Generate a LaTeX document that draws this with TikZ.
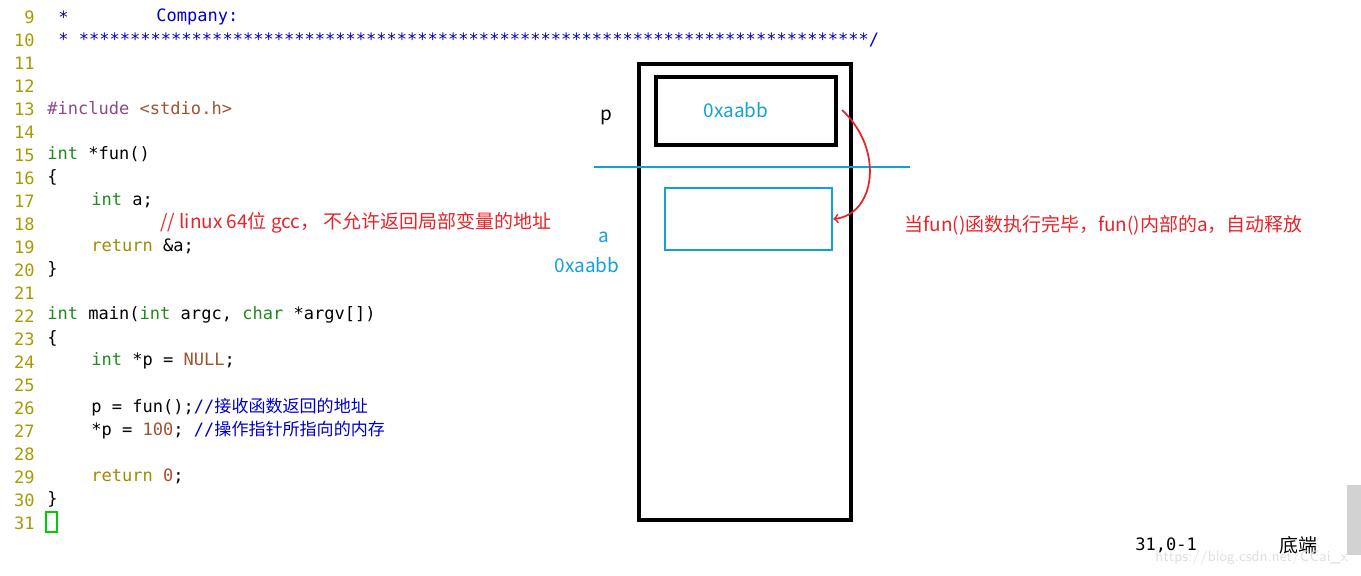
\documentclass[tikz,border=0pt]{standalone}
\usepackage{fontspec}
\setmonofont{DejaVu Sans Mono}
\newfontfamily\cjk{Noto Sans CJK SC}
\usepackage{tikz}
\definecolor{linenum}{HTML}{A89A00}
\definecolor{kwgreen}{HTML}{1E8A1E}
\definecolor{retcol}{HTML}{A08A00}
\definecolor{inccol}{HTML}{8A4A8A}
\definecolor{numcol}{HTML}{A0522D}
\definecolor{cmtblue}{HTML}{0000CC}
\definecolor{memblue}{HTML}{12A0DC}
\definecolor{notered}{HTML}{E8232A}

\begin{document}
\begin{tikzpicture}[
    x=0.02cm, y=-0.02cm,
    num/.style={anchor=east, inner sep=0pt, font=\ttfamily\fontsize{9.7}{11}\selectfont, text=linenum},
    code/.style={anchor=west, inner sep=0pt, font=\ttfamily\fontsize{9.7}{11}\selectfont},
    note/.style={inner sep=0pt, font=\cjk\fontsize{9.8}{12}\selectfont},
    bignote/.style={inner sep=0pt, font=\cjk\fontsize{10.8}{13}\selectfont},
    cell/.style={draw, line width=2.2pt},
]
\useasboundingbox (0,0) rectangle (1361,575);

% --- numeros de linea ---
\foreach \n [evaluate=\n as \yy using 17+(\n-9)*23] in {9,...,31}
    \node[num] (n\n) at (35,\yy) {\n};

% --- codigo ---
\node[code, text=cmtblue] (c9a) at (58,17) {*};
\node[code, text=cmtblue] (c9b) at (156,17) {Company:};
\node[code, text=cmtblue] (c10) at (58,40) {* *****************************************************************************/};
\node[code] (c13) at (47,108) {\textcolor{inccol}{\#include} \textcolor{numcol}{<stdio.h>}};
\node[code] (c15) at (47,154) {\textcolor{kwgreen}{int} *fun()};
\node[code] (c16) at (47,177) {\{};
\node[code] (c17) at (91,200) {\textcolor{kwgreen}{int} a;};
\node[bignote, anchor=west, text=notered] (c18) at (160,223) {// linux 64位 gcc， 不允许返回局部变量的地址};
\node[code] (c19) at (91,246) {\textcolor{retcol}{return} \&a;};
\node[code] (c20) at (47,269) {\}};
\node[code] (c22) at (47,315) {\textcolor{kwgreen}{int} main(\textcolor{kwgreen}{int} argc, \textcolor{kwgreen}{char} *argv[])};
\node[code] (c23) at (47,338) {\{};
\node[code] (c24) at (91,361) {\textcolor{kwgreen}{int} *p = \textcolor{numcol}{NULL};};
\node[code] (c26) at (91,407) {p = fun();\textcolor{cmtblue}{//{\cjk 接收函数返回的地址}}};
\node[code] (c27) at (91,430) {*p = \textcolor{numcol}{100}; \textcolor{cmtblue}{//{\cjk 操作指针所指向的内存}}};
\node[code] (c29) at (91,476) {\textcolor{retcol}{return} \textcolor{numcol}{0};};
\node[code] (c30) at (47,499) {\}};
\draw[green!80!black, line width=0.7pt] (46,512) rectangle (57,532);

% --- memoria ---
\draw[cell] (639,64) rectangle (851,520);
\node[cell, minimum width=180*0.02cm, minimum height=68*0.02cm, line width=2.6pt] (pbox) at (746,111) {};
\node[text=memblue, bignote] (pval) at (736,110) {0xaabb};
\node[bignote] (plab) at (606,117) {p};
\draw[memblue, line width=1.5pt] (594,167) -- (910,167);
\node[draw=memblue, line width=1.5pt, minimum width=167*0.02cm, minimum height=62*0.02cm] (abox) at (748.5,219) {};
\node[bignote, text=memblue] (alab) at (604,237) {a};
\node[bignote, text=memblue] (aval) at (587,265) {0xaabb};

% --- liberacion ---
\draw[->, notered, line width=1pt] (842,110) .. controls (885,150) and (875,215) .. (abox.east);
\node[bignote, text=notered, anchor=west] (free) at (904,225) {当fun()函数执行完毕，fun()内部的a，自动释放};

% --- barra de estado ---
\node[code] (pos) at (1135,545) {31,0-1};
\node[bignote, anchor=west] (bot) at (1279,545) {底端};
\fill[gray!35] (1347,485) rectangle (1361,555);
\node[inner sep=0pt, font=\sffamily\fontsize{8.5}{10}\selectfont, text=gray!25, anchor=west] (wm) at (1155,558) {https://blog.csdn.net/CCai\_x};
\end{tikzpicture}
\end{document}
